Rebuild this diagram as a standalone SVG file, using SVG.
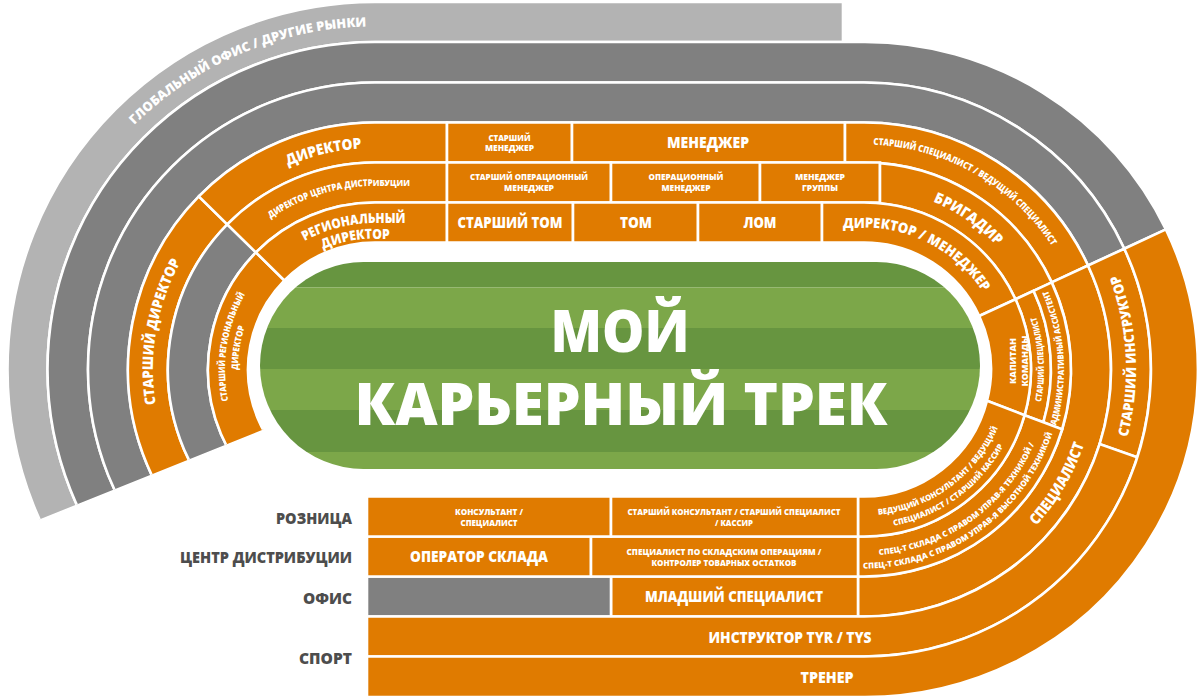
<svg xmlns="http://www.w3.org/2000/svg" width="1200" height="699" viewBox="0 0 1200 699">
<style>
.c{stroke:#fff;stroke-width:2.6;stroke-linejoin:miter}
.o{fill:#E07B00}
.g{fill:#808080}
.lg{fill:#B3B3B3}
text{font-family:"Open Sans","DejaVu Sans",sans-serif;font-weight:800}
.w{fill:#fff}
.lbl{fill:#4D4D4D;font-size:16px;text-anchor:end}
.s{font-size:9.5px}
.m{font-size:15.5px}
.mid{text-anchor:middle}
.dk{fill:#679540}
.lt{fill:#7CA749}
</style>
<defs>
<clipPath id="cut"><polygon points="-10,-10 1210,-10 1210,384.6 375,384.6 -10,539.3"/></clipPath>
<clipPath id="fieldClip"><rect x="260" y="262" width="720" height="207" rx="103.5"/></clipPath>
<path id="tpGlobal" d="M64.1,224.5 A343,343 0 0 1 486.7,45.2"/>
<path id="tpDir" d="M237.7,195.7 A221.5,221.5 0 0 1 419.9,152.6"/>
<path id="tpDCD" d="M234.4,251.5 A183.5,183.5 0 0 1 375,186 L460,186"/>
<path id="tpReg1" d="M237.3,319.4 A146.5,146.5 0 0 1 375,223 L500,223"/>
<path id="tpReg2" d="M251.9,324.7 A131,131 0 0 1 375,238.5 L500,238.5"/>
<path id="tpSDir" d="M204.9,512.2 A222,222 0 0 1 264,177.2"/>
<path id="tpSRD1" d="M246.4,446.7 A150,150 0 0 1 276.6,256.3"/>
<path id="tpSRD2" d="M257.6,440.1 A137,137 0 0 1 285.1,266.1"/>
<path id="tpSSVS" d="M803.9,152.7 A225,225 0 0 1 1080.8,309.4"/>
<path id="tpBrig" d="M864,188 A181.5,181.5 0 0 1 1033.9,305.6"/>
<path id="tpDM" d="M800,227.5 H864 A142,142 0 0 1 1003.8,344.8"/>
<path id="tpSS" d="M1001.9,485.2 A180,180 0 0 0 987.7,238.7"/>
<path id="tpAA" d="M1017.2,498.1 A200,200 0 0 0 1000.4,223.2"/>
<path id="tpSI" d="M1066.1,551.5 A272,272 0 0 0 1046,167.4"/>
<path id="tpSpec" d="M924.2,594.1 A232.5,232.5 0 0 0 1089.6,313.3"/>
<path id="tpVK1" d="M838.7,513.3 A146,146 0 0 0 1008.6,389.8"/>
<path id="tpVK2" d="M836.4,526.1 A159,159 0 0 0 1021.5,391.6"/>
<path id="tpSK1" d="M815.9,549.2 A186,186 0 0 0 1049.5,382.5"/>
<path id="tpSK2" d="M812.5,561.7 A199,199 0 0 0 1062.5,383.4"/>
</defs>

<g id="global-office" clip-path="url(#cut)">
<path class="c lg" d="M843,2 H375 A367.5,367.5 0 0 0 375,737 V697 A327.5,327.5 0 0 1 375,42 H843 Z"/>
<text class="w mid" font-size="13"><textPath href="#tpGlobal" startOffset="50%" textLength="258" lengthAdjust="spacingAndGlyphs">ГЛОБАЛЬНЫЙ ОФИС / ДРУГИЕ РЫНКИ</textPath></text>
</g>
<g id="gray-outer" clip-path="url(#cut)">
<path class="c g" d="M1165.9,229.4 A333,327.5 0 0 0 864,42 H375 A327.5,327.5 0 0 0 375,697 V656.5 A287,287 0 0 1 375,82.5 H864 A287,287 0 0 1 1124.3,248.7 Z"/>
</g>
<g id="gray-inner" clip-path="url(#cut)">
<path class="c g" d="M1124.3,248.7 A287,287 0 0 0 864,82.5 H375 A287,287 0 0 0 375,656.5 V616.5 A247,247 0 0 1 375,122.5 H864 A247,247 0 0 1 1088,265.5 Z"/>
</g>
<g id="senior-director" clip-path="url(#cut)">
<path class="c o" d="M198.8,196.4 A247,247 0 0 0 375,616.5 V576.5 A207,207 0 0 1 227.3,224.4 Z"/>
<text class="w mid" font-size="14.5"><textPath href="#tpSDir" startOffset="50%" textLength="147" lengthAdjust="spacingAndGlyphs">СТАРШИЙ ДИРЕКТОР</textPath></text>
</g>
<g id="left-gray-band2" clip-path="url(#cut)">
<path class="c g" d="M227.3,224.4 A207,207 0 0 0 375,576.5 V536.5 A167,167 0 0 1 255.9,252.4 Z"/>
</g>
<g id="senior-regional-director" clip-path="url(#cut)">
<path class="c o" d="M255.9,252.4 A167,167 0 0 0 375,536.5 V496.5 A127,127 0 0 1 284.4,280.5 Z"/>
<text class="w mid" font-size="9"><textPath href="#tpSRD1" startOffset="50%" textLength="110" lengthAdjust="spacingAndGlyphs">СТАРШИЙ РЕГИОНАЛЬНЫЙ</textPath></text>
<text class="w mid" font-size="9"><textPath href="#tpSRD2" startOffset="50%" textLength="44" lengthAdjust="spacingAndGlyphs">ДИРЕКТОР</textPath></text>
</g>

<g id="director">
<path class="c o" d="M447,122.5 H375 A247,247 0 0 0 198.8,196.4 L227.3,224.4 A207,207 0 0 1 375,162.5 H447 Z"/>
<text class="w mid" font-size="15"><textPath href="#tpDir" startOffset="50%" textLength="76" lengthAdjust="spacingAndGlyphs">ДИРЕКТОР</textPath></text>
</g>
<g id="senior-manager">
<path class="c o" d="M447,122.5 H572 V162.5 H447 Z"/>
<text class="w mid s"><tspan x="509.5" y="140.5" textLength="42" lengthAdjust="spacingAndGlyphs">СТАРШИЙ</tspan><tspan x="509.5" y="150.5" textLength="49" lengthAdjust="spacingAndGlyphs">МЕНЕДЖЕР</tspan></text>
</g>
<g id="manager">
<path class="c o" d="M572,122.5 H845 V162.5 H572 Z"/>
<text class="w mid m" x="708" y="148" textLength="82" lengthAdjust="spacingAndGlyphs">МЕНЕДЖЕР</text>
</g>
<g id="senior-lead-specialist">
<path class="c o" d="M845,122.5 H864 A247,247 0 0 1 1088,265.5 L1051.7,282.4 A207,207 0 0 0 864,162.5 H845 Z"/>
<text class="w mid s"><textPath href="#tpSSVS" startOffset="50%" textLength="213" lengthAdjust="spacingAndGlyphs">СТАРШИЙ СПЕЦИАЛИСТ / ВЕДУЩИЙ СПЕЦИАЛИСТ</textPath></text>
</g>
<g id="specialist">
<path class="c o" d="M1088,265.5 A247,247 0 0 1 864,616.5 H858 V576.5 H864 A207,207 0 0 0 1051.7,282.4 Z"/>
<text class="w mid" font-size="15"><textPath href="#tpSpec" startOffset="50%" textLength="95" lengthAdjust="spacingAndGlyphs">СПЕЦИАЛИСТ</textPath></text>
</g>
<g id="junior-specialist">
<path class="c o" d="M611,576.5 H858 V616.5 H611 Z"/>
<text class="w mid m" x="734" y="602" textLength="178" lengthAdjust="spacingAndGlyphs">МЛАДШИЙ СПЕЦИАЛИСТ</text>
</g>
<g id="office-empty">
<path class="c g" d="M367,576.5 H611 V616.5 H367 Z"/>
</g>

<g id="dc-director">
<path class="c o" d="M447,162.5 H375 A207,207 0 0 0 227.3,224.4 L255.9,252.4 A167,167 0 0 1 375,202.5 H447 Z"/>
<text class="w s"><textPath href="#tpDCD" startOffset="49" textLength="146" lengthAdjust="spacingAndGlyphs">ДИРЕКТОР ЦЕНТРА ДИСТРИБУЦИИ</textPath></text>
</g>
<g id="senior-ops-manager">
<path class="c o" d="M447,162.5 H611 V202.5 H447 Z"/>
<text class="w mid s"><tspan x="529" y="180" textLength="118" lengthAdjust="spacingAndGlyphs">СТАРШИЙ ОПЕРАЦИОННЫЙ</tspan><tspan x="529" y="190.5" textLength="50" lengthAdjust="spacingAndGlyphs">МЕНЕДЖЕР</tspan></text>
</g>
<g id="ops-manager">
<path class="c o" d="M611,162.5 H760 V202.5 H611 Z"/>
<text class="w mid s"><tspan x="686" y="180" textLength="75" lengthAdjust="spacingAndGlyphs">ОПЕРАЦИОННЫЙ</tspan><tspan x="686" y="190.5" textLength="49" lengthAdjust="spacingAndGlyphs">МЕНЕДЖЕР</tspan></text>
</g>
<g id="group-manager">
<path class="c o" d="M760,162.5 H880 V202.5 H760 Z"/>
<text class="w mid s"><tspan x="820" y="180" textLength="50" lengthAdjust="spacingAndGlyphs">МЕНЕДЖЕР</tspan><tspan x="820" y="190.5" textLength="36" lengthAdjust="spacingAndGlyphs">ГРУППЫ</tspan></text>
</g>
<g id="foreman">
<path class="c o" d="M880,163.1 A207,207 0 0 1 1051.7,282.4 L1015.5,299.2 A167,167 0 0 0 880,203.3 Z"/>
<text class="w mid" font-size="15"><textPath href="#tpBrig" startOffset="50%" textLength="78" lengthAdjust="spacingAndGlyphs">БРИГАДИР</textPath></text>
</g>
<g id="senior-specialist-dc">
<path class="c o" d="M1015.5,299.2 A167,167 0 0 1 1024.6,415.2 L1043.4,422.2 A187,187 0 0 0 1033.6,290.8 Z"/>
<text class="w mid" font-size="8.5"><textPath href="#tpSS" startOffset="50%" textLength="86" lengthAdjust="spacingAndGlyphs">СТАРШИЙ СПЕЦИАЛИСТ</textPath></text>
</g>
<g id="admin-assistant">
<path class="c o" d="M1033.6,290.8 A187,187 0 0 1 1043.4,422.2 L1062.1,429.4 A207,207 0 0 0 1051.7,282.4 Z"/>
<text class="w mid" font-size="8.5"><textPath href="#tpAA" startOffset="50%" textLength="138" lengthAdjust="spacingAndGlyphs">АДМИНИСТРАТИВНЫЙ АССИСТЕНТ</textPath></text>
</g>
<g id="warehouse-specialist-equipment">
<path class="c o" d="M1062.1,429.4 A207,207 0 0 1 864,576.5 H858 V536.5 H864 A167,167 0 0 0 1024.6,415.2 Z"/>
<text class="w mid" font-size="8"><textPath href="#tpSK1" startOffset="50%" textLength="200" lengthAdjust="spacingAndGlyphs">СПЕЦ-Т СКЛАДА С ПРАВОМ УПРАВ-Я ТЕХНИКОЙ /</textPath></text>
<text class="w mid" font-size="8"><textPath href="#tpSK2" startOffset="50%" textLength="248" lengthAdjust="spacingAndGlyphs">СПЕЦ-Т СКЛАДА С ПРАВОМ УПРАВ-Я ВЫСОТНОЙ ТЕХНИКОЙ</textPath></text>
</g>
<g id="warehouse-operator">
<path class="c o" d="M367,536.5 H591 V576.5 H367 Z"/>
<text class="w mid m" x="479" y="562" textLength="138" lengthAdjust="spacingAndGlyphs">ОПЕРАТОР СКЛАДА</text>
</g>
<g id="warehouse-ops-specialist">
<path class="c o" d="M591,536.5 H858 V576.5 H591 Z"/>
<text class="w mid s"><tspan x="724" y="554.5" textLength="195" lengthAdjust="spacingAndGlyphs">СПЕЦИАЛИСТ ПО СКЛАДСКИМ ОПЕРАЦИЯМ /</tspan><tspan x="724" y="565.5" textLength="145" lengthAdjust="spacingAndGlyphs">КОНТРОЛЕР ТОВАРНЫХ ОСТАТКОВ</tspan></text>
</g>

<g id="regional-director">
<path class="c o" d="M447,202.5 H375 A167,167 0 0 0 255.9,252.4 L284.4,280.5 A127,127 0 0 1 375,242.5 H447 Z"/>
<text class="w mid" font-size="13.5"><textPath href="#tpReg1" startOffset="157.3" textLength="104" lengthAdjust="spacingAndGlyphs">РЕГИОНАЛЬНЫЙ</textPath></text>
<text class="w mid" font-size="13.5"><textPath href="#tpReg2" startOffset="140.6" textLength="68" lengthAdjust="spacingAndGlyphs">ДИРЕКТОР</textPath></text>
</g>
<g id="senior-tom">
<path class="c o" d="M447,202.5 H573 V242.5 H447 Z"/>
<text class="w mid m" x="510" y="228" textLength="105" lengthAdjust="spacingAndGlyphs">СТАРШИЙ ТОМ</text>
</g>
<g id="tom">
<path class="c o" d="M573,202.5 H698 V242.5 H573 Z"/>
<text class="w mid m" x="636" y="228" textLength="32" lengthAdjust="spacingAndGlyphs">ТОМ</text>
</g>
<g id="lom">
<path class="c o" d="M698,202.5 H822 V242.5 H698 Z"/>
<text class="w mid m" x="760" y="228" textLength="33" lengthAdjust="spacingAndGlyphs">ЛОМ</text>
</g>
<g id="director-manager">
<path class="c o" d="M822,202.5 H864 A167,167 0 0 1 1015.5,299.2 L979.2,316 A127,127 0 0 0 864,242.5 H822 Z"/>
<text class="w" font-size="14"><textPath href="#tpDM" startOffset="43" textLength="162" lengthAdjust="spacingAndGlyphs">ДИРЕКТОР / МЕНЕДЖЕР</textPath></text>
</g>
<g id="team-captain">
<path class="c o" d="M979.2,316 L1015.5,299.2 A167,167 0 0 1 1024.6,415.2 L987,400.7 A127,127 0 0 0 979.2,316 Z"/>
<text class="w mid" font-size="9" transform="translate(1018,361) rotate(-90)"><tspan x="0" y="-2.5">КАПИТАН</tspan><tspan x="0" y="9.5">КОМАНДЫ</tspan></text>
</g>
<g id="lead-consultant">
<path class="c o" d="M1024.6,415.2 A167,167 0 0 1 864,536.5 H858 V496.5 H864 A127,127 0 0 0 987,400.7 Z"/>
<text class="w mid" font-size="8"><textPath href="#tpVK1" startOffset="50%" textLength="155" lengthAdjust="spacingAndGlyphs">ВЕДУЩИЙ КОНСУЛЬТАНТ / ВЕДУЩИЙ</textPath></text>
<text class="w mid" font-size="8"><textPath href="#tpVK2" startOffset="50%" textLength="140" lengthAdjust="spacingAndGlyphs">СПЕЦИАЛИСТ / СТАРШИЙ КАССИР</textPath></text>
</g>
<g id="consultant">
<path class="c o" d="M367,496.5 H611 V536.5 H367 Z"/>
<text class="w mid s"><tspan x="489" y="514.5" textLength="68" lengthAdjust="spacingAndGlyphs">КОНСУЛЬТАНТ /</tspan><tspan x="489" y="525.5" textLength="57" lengthAdjust="spacingAndGlyphs">СПЕЦИАЛИСТ</tspan></text>
</g>
<g id="senior-consultant">
<path class="c o" d="M611,496.5 H858 V536.5 H611 Z"/>
<text class="w mid s"><tspan x="734" y="514.5" textLength="213" lengthAdjust="spacingAndGlyphs">СТАРШИЙ КОНСУЛЬТАНТ / СТАРШИЙ СПЕЦИАЛИСТ</tspan><tspan x="734" y="525.5" textLength="38" lengthAdjust="spacingAndGlyphs">/ КАССИР</tspan></text>
</g>

<g id="senior-instructor">
<path class="c o" d="M1088,265.5 L1124.3,248.7 A287,287 0 0 1 1137.2,457.3 L1099.6,444.1 A247,247 0 0 0 1088,265.5 Z"/>
<text class="w mid" font-size="14"><textPath href="#tpSI" startOffset="50%" textLength="165" lengthAdjust="spacingAndGlyphs">СТАРШИЙ ИНСТРУКТОР</textPath></text>
</g>
<g id="instructor">
<path class="c o" d="M1137.2,457.3 A287,287 0 0 1 864,656.5 H367 V616.5 H864 A247,247 0 0 0 1099.6,444.1 Z"/>
<text class="w mid m" x="790" y="642.5" textLength="163" lengthAdjust="spacingAndGlyphs">ИНСТРУКТОР TYR / TYS</text>
</g>
<g id="trainer">
<path class="c o" d="M1165.9,229.4 A333,327.5 0 0 1 864,697 H367 V656.5 H864 A287,287 0 0 0 1124.3,248.7 Z"/>
<text class="w mid m" x="827" y="682.5" textLength="53" lengthAdjust="spacingAndGlyphs">ТРЕНЕР</text>
</g>

<g id="field">
<g clip-path="url(#fieldClip)">
<rect class="dk" x="255" y="258" width="730" height="29.5"/>
<rect class="lt" x="255" y="287.5" width="730" height="40.5"/>
<rect class="dk" x="255" y="328" width="730" height="41"/>
<rect class="lt" x="255" y="369" width="730" height="41"/>
<rect class="dk" x="255" y="410" width="730" height="42"/>
<rect class="lt" x="255" y="452" width="730" height="20"/>
</g>
<text class="w mid" font-size="58" x="620" y="352" textLength="139" lengthAdjust="spacingAndGlyphs">МОЙ</text>
<text class="w mid" font-size="58" x="621" y="425" textLength="533" lengthAdjust="spacingAndGlyphs">КАРЬЕРНЫЙ ТРЕК</text>
</g>

<g id="row-labels">
<text class="lbl" x="352" y="524" textLength="76" lengthAdjust="spacingAndGlyphs">РОЗНИЦА</text>
<text class="lbl" x="352" y="563" textLength="172" lengthAdjust="spacingAndGlyphs">ЦЕНТР ДИСТРИБУЦИИ</text>
<text class="lbl" x="352" y="604" textLength="49" lengthAdjust="spacingAndGlyphs">ОФИС</text>
<text class="lbl" x="352" y="664" textLength="53" lengthAdjust="spacingAndGlyphs">СПОРТ</text>
</g>
<g id="connectors"/>
</svg>
